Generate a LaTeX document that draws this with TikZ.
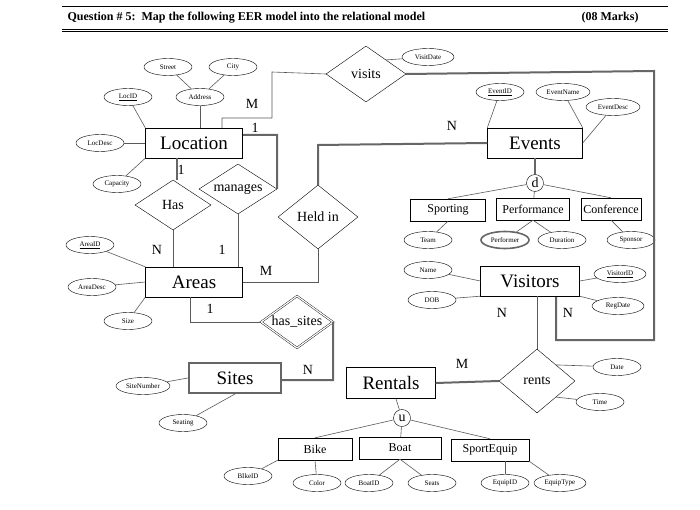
\documentclass[tikz,border=0pt]{standalone}
\usepackage{fontspec}
\setmainfont{Liberation Serif}
\usetikzlibrary{shapes.geometric}
\tikzset{
  ent/.style={draw, rectangle, minimum height=30pt, font=\fontsize{19}{19}\selectfont, inner sep=0pt},
  sub/.style={draw, rectangle, minimum height=22pt, font=\fontsize{12}{12}\selectfont, inner sep=2pt},
  att/.style={draw, ellipse, minimum width=48pt, minimum height=17pt, inner sep=0pt, font=\fontsize{7}{7}\selectfont},
  rel/.style={draw, diamond, aspect=1.4, inner sep=0pt, font=\fontsize{14}{14}\selectfont},
  card/.style={font=\fontsize{14}{14}\selectfont},
  thk/.style={line width=2pt, draw=gray!80!black},
  ln/.style={draw=gray!70!black, line width=0.6pt},
}
\begin{document}
\begin{tikzpicture}[x=1pt,y=-1pt]
\useasboundingbox (0,0) rectangle (700,510);
% header
\draw (62,6) -- (668,6);
\draw (62,29) -- (668,29);
\draw (62,31) -- (668,31);
\node[anchor=west, font=\bfseries\fontsize{12}{12}\selectfont] (Q) at (64,18) {Question \# 5:\ \ Map the following EER model into the relational model};
\node[font=\bfseries\fontsize{12}{12}\selectfont] (Mk) at (610,18) {(08 Marks)};

% entities
\node(Loc)[ent, minimum width=97pt] at (194,143) {Location};
\node(Are)[ent, minimum width=97pt] at (194,282) {Areas};
\node(Evt)[ent, minimum width=95pt] at (535,143) {Events};
\node(Vis)[ent, minimum width=99pt] at (530,281) {Visitors};
\node(Ren)[ent, minimum width=89pt, minimum height=31pt] at (391,383) {Rentals};
\node(Sit)[ent, minimum width=92pt, line width=2pt, draw=gray!80!black] at (235,378) {Sites};

% relationships
\node(Vst)[rel, minimum width=80pt, minimum height=56pt] at (366,74) {visits};
\node(Hel)[rel, minimum width=80pt, minimum height=64pt] at (318,217) {Held in};
\node(Man)[rel, minimum width=78pt, minimum height=50pt] at (238,189) {manages};
\node(Has)[rel, minimum width=76pt, minimum height=50pt] at (173,205) {Has};
\node(Hsi)[rel, minimum width=72pt, minimum height=52pt, double, double distance=1.2pt] at (297,322) {has\_sites};
\node(Rnt)[rel, minimum width=76pt, minimum height=64pt] at (537,381) {rents};

% specialisation
\node(D)[draw, circle, minimum size=17pt, inner sep=0pt, font=\fontsize{14}{14}\selectfont] at (535,183) {d};
\node(Spo)[sub, minimum width=75pt] at (448,210) {Sporting};
\node(Per)[sub, minimum width=73pt] at (533,209) {Performance};
\node(Con)[sub, minimum width=60pt] at (611,209) {Conference};
\node(U)[draw, circle, minimum size=17pt, inner sep=0pt, font=\fontsize{14}{14}\selectfont] at (402,418) {u};
\node(Bik)[sub, minimum width=74pt] at (315,449) {Bike};
\node(Boa)[sub, minimum width=82pt] at (400,448) {Boat};
\node(Spe)[sub, minimum width=78pt] at (490,450) {SportEquip};

% attributes
\node(Str)[att] at (168,67) {Street};
\node(Cit)[att] at (233,67) {City};
\node(LId)[att] at (128,97) {\underline{LocID}};
\node(Adr)[att] at (200,97) {Address};
\node(LDe)[att] at (100,143) {LocDesc};
\node(Cap)[att] at (117,184) {Capacity};
\node(AId)[att] at (90,245) {\underline{AreaID}};
\node(ADe)[att] at (92,287) {AreaDesc};
\node(Siz)[att] at (128,321) {Size};
\node(SNu)[att, minimum width=54pt] at (143,386) {SiteNumber};
\node(Sea)[att] at (183,423) {Seating};
\node(VDa)[att, minimum width=52pt] at (428,57) {VisitDate};
\node(EId)[att] at (500,92) {\underline{EventID}};
\node(ENa)[att, minimum width=54pt] at (563,92) {EventName};
\node(EDe)[att, minimum width=54pt] at (613,107) {EventDesc};
\node(Tea)[att] at (428,240) {Team};
\node(Pfm)[att, line width=1.6pt, draw=gray!80!black] at (505,240) {Performer};
\node(Dur)[att] at (562,240) {Duration};
\node(Sps)[att] at (631,240) {Sponsor};
\node(Nam)[att] at (428,270) {Name};
\node(DOB)[att] at (432,300) {DOB};
\node(VId)[att, minimum width=52pt] at (620,274) {\underline{VisitorID}};
\node(RDa)[att, minimum width=52pt] at (618,306) {RegDate};
\node(Dat)[att] at (617,367) {Date};
\node(Tim)[att] at (600,402) {Time};
\node(BId)[att] at (248,476) {BIkeID};
\node(Col)[att] at (317,483) {Color};
\node(BoI)[att] at (369,483) {BoatID};
\node(Sts)[att] at (432,483) {Seats};
\node(EqI)[att] at (505,483) {EquipID};
\node(EqT)[att, minimum width=52pt] at (560,483) {EquipType};

% attribute links
\draw[ln] (Str) -- (Adr); \draw[ln] (Cit) -- (Adr);
\draw[ln] (Adr) -- (Adr |- Loc.north);
\draw[ln] (LId) -- (Loc.north west);
\draw[ln] (LDe) -- (Loc.west);
\draw[ln] (Cap) -- (Loc.south west);
\draw[ln] (AId) -- (Are.north west);
\draw[ln] (ADe) -- (Are.west);
\draw[ln] (Siz) -- (Are.south west);
\draw[ln] (SNu) -- (Sit.west);
\draw[ln] (Sea) -- (Sit.south);
\draw[ln] (VDa) -- (Vst.north east);
\draw[ln] (EId) -- (Evt.north west);
\draw[ln] (ENa) -- (Evt.north east);
\draw[ln] (EDe) -- (Evt.east);
\draw[ln] (Tea) -- (Spo.south);
\draw[ln] (Pfm) -- (Per.south);
\draw[ln] (Dur) -- (Per.south);
\draw[ln] (Sps) -- (Con.south);
\draw[ln] (Nam) -- (Vis.west);
\draw[ln] (DOB) -- (Vis.south west);
\draw[ln] (VId) -- (Vis.east);
\draw[ln] (RDa) -- (Vis.south east);
\draw[ln] (Dat) -- (Rnt.north east);
\draw[ln] (Tim) -- (Rnt.south east);
\draw[ln] (BId) -- (Bik.south west);
\draw[ln] (Col) -- (Bik.south);
\draw[ln] (BoI) -- (Boa.south);
\draw[ln] (Sts) -- (Boa.south);
\draw[ln] (EqI) -- (EqI |- Spe.south);
\draw[ln] (EqT) -- (Spe.south east);

% specialisation links
\draw[thk] (Evt) -- (D);
\draw[ln] (D) -- (Spo.north); \draw[ln] (D) -- (Per); \draw[ln] (D) -- (Con.north);
\draw[ln] (Ren) -- (U);
\draw[ln] (U) -- (Bik.north); \draw[ln] (U) -- (Boa); \draw[ln] (U) -- (Spe.north);

% relationship links
\draw[ln] (222,128) -- (222,118) -- (272,118) -- (272,72) -- (Vst.west);
\draw[thk] (Vst.east) -- (654,71) -- (654,340) -- (556,340) -- (556,297);
\draw[thk] (243,135) -- (277,135) -- (Man.east);
\draw[ln] (Man.south) -- (Man.south |- Are.north);
\draw[thk] (177,158) -- (177,180);
\draw[ln] (Has.south) -- (Has.south |- Are.north);
\draw[thk] (Hel.north) -- (318,145) -- (Evt.west);
\draw[ln] (Hel.south) -- (318,282) -- (Are.east);
\draw[ln] (190,297) -- (190,322) -- (Hsi.west);
\draw[thk] (Hsi.east) -- (333,380) -- (281,380);
\draw[thk] (Ren.east) -- (Rnt.west);
\draw[ln] (Vis.south -| Rnt.north) -- (Rnt.north);

% cardinalities
\node[card] (c1) at (252,104) {M};
\node[card] (c2) at (255,128) {1};
\node[card] (c3) at (181,170) {1};
\node[card] (c4) at (157,250) {N};
\node[card] (c5) at (222,250) {1};
\node[card] (c6) at (266,271) {M};
\node[card] (c7) at (452,126) {N};
\node[card] (c8) at (210,309) {1};
\node[card] (c9) at (308,370) {N};
\node[card] (c10) at (502,313) {N};
\node[card] (c11) at (568,313) {N};
\node[card] (c12) at (462,364) {M};
\end{tikzpicture}
\end{document}
